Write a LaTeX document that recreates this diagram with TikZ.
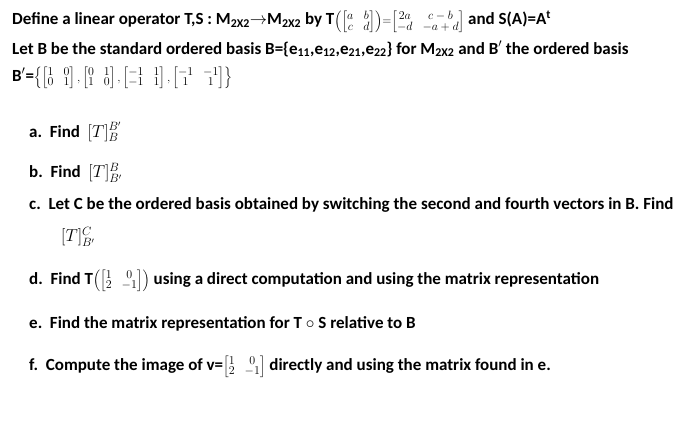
\documentclass[tikz,border=0pt]{standalone}
\usepackage{amsmath}
\usepackage{fontspec}
\setmainfont{Carlito}
\tikzset{txt/.style={anchor=west,inner sep=0pt,font=\bfseries\fontsize{17}{19}\selectfont}}
\newcommand{\mat}[1]{{\fontsize{12.5}{12.5}\selectfont\renewcommand{\arraystretch}{0.78}$\begin{bmatrix}#1\end{bmatrix}$}}
\newcommand{\matp}[1]{{\fontsize{12.5}{12.5}\selectfont\renewcommand{\arraystretch}{0.78}$\left(\begin{bmatrix}#1\end{bmatrix}\right)$}}
\newcommand{\bm}[1]{\begin{bmatrix}#1\end{bmatrix}}
\begin{document}
\begin{tikzpicture}[x=1pt,y=-1pt]
\useasboundingbox (0,0) rectangle (700,420);
\node[txt] (l1) at (12,22) {Define a linear operator T,S : M\textsubscript{2X2}$\rightarrow$M\textsubscript{2X2} by T\matp{a & b\\ c & d}{\fontsize{12.5}{12.5}\selectfont$=$}\mat{2a & c-b\\ -d & -a+d} and S(A)=A\textsuperscript{t}};
\node[txt] (l2) at (12,49) {Let B be the standard ordered basis B=\{e\textsubscript{11},e\textsubscript{12},e\textsubscript{21},e\textsubscript{22}\} for M\textsubscript{2X2} and B$'$ the ordered basis};
\node[txt] (l3) at (12,78) {B$'$={\fontsize{12.5}{12.5}\selectfont\renewcommand{\arraystretch}{0.78}$\left\{\bm{1&0\\0&1},\bm{0&1\\1&0},\bm{-1&1\\-1&1},\bm{-1&-1\\1&1}\right\}$}};
\node[txt] (a) at (29,132) {a.\ \ Find \ $[T]_B^{B'}$};
\node[txt] (b) at (29,173) {b.\ \ Find \ $[T]_{B'}^{B}$};
\node[txt] (c) at (29,205) {c.\ \ Let C be the ordered basis obtained by switching the second and fourth vectors in B. Find};
\node[txt] (c2) at (61,237) {$[T]_{B'}^{C}$};
\node[txt] (d) at (29,281) {d.\ \ Find T\matp{1&0\\2&-1} using a direct computation and using the matrix representation};
\node[txt] (e) at (29,324) {e.\ \ Find the matrix representation for T $\circ$ S relative to B};
\node[txt] (f) at (29,367) {f.\ \ Compute the image of v=\mat{1&0\\2&-1} directly and using the matrix found in e.};
\end{tikzpicture}
\end{document}
